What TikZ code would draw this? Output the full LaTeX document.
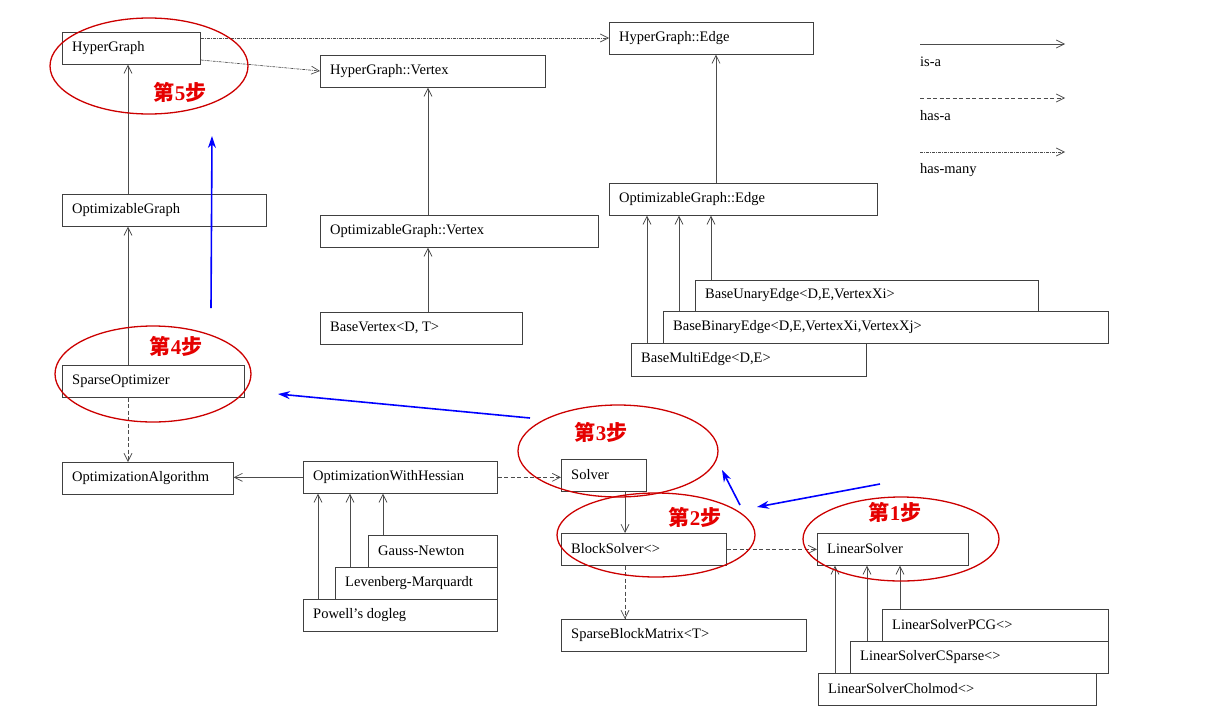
\documentclass[tikz,border=0pt]{standalone}
\usepackage{fontspec}
\setmainfont{Liberation Serif}
\newfontfamily\cjk{Noto Sans CJK SC}
\usetikzlibrary{arrows.meta}
\begin{document}
\begin{tikzpicture}[x=1pt,y=-1pt,
 box/.style={draw=black!75,line width=0.7pt,anchor=north west,inner sep=0pt},
 lbl/.style={anchor=west,inner sep=0pt,font=\fontsize{14.5}{16}\selectfont},
 isa/.style={draw=black!70,line width=0.7pt,-{Straight Barb[length=8pt,width=8pt]}},
 hasa/.style={isa,dash pattern=on 4pt off 2.5pt},
 hasmany/.style={isa,dash pattern=on 3pt off 1pt on 1pt off 1pt},
 ring/.style={draw=red!80!black,line width=1.3pt},
 steplbl/.style={text=red!90!black,font=\fontsize{21}{23}\selectfont\bfseries},
 bluearrow/.style={draw=blue,line width=1.6pt,-{Stealth[length=12pt,width=8pt]}}]
\useasboundingbox (0,0) rectangle (1223,718);
\newcommand{\bx}[6]{\node[box,minimum width=#4-#2,minimum height=#5-#3] (#1) at (#2,#3) {};
 \node[lbl] at (#2+10,{(#3+#5)/2}) {#6};}
\bx{hg}{62}{32}{200}{64}{HyperGraph}
\bx{hgv}{320}{55}{545}{87}{HyperGraph::Vertex}
\bx{hge}{609}{22}{813}{54}{HyperGraph::Edge}
\bx{og}{62}{194}{266}{226}{OptimizableGraph}
\bx{ogv}{320}{215}{598}{247}{OptimizableGraph::Vertex}
\bx{oge}{609}{183}{877}{215}{OptimizableGraph::Edge}
\bx{bv}{320}{312}{522}{344}{BaseVertex<D, T>}
\bx{bue}{695}{280}{1038}{311}{BaseUnaryEdge<D,E,VertexXi>}
\bx{bbe}{663}{311}{1108}{343}{BaseBinaryEdge<D,E,VertexXi,VertexXj>}
\bx{bme}{631}{343}{866}{376}{BaseMultiEdge<D,E>}
\bx{so}{62}{365}{244}{397}{SparseOptimizer}
\bx{oa}{62}{462}{233}{494}{OptimizationAlgorithm}
\bx{owh}{303}{461}{497}{493}{OptimizationWithHessian}
\bx{sol}{561}{459}{646}{491}{Solver}
\bx{bs}{561}{533}{726}{565}{BlockSolver<>}
\bx{ls}{817}{533}{968}{565}{LinearSolver}
\bx{gn}{368}{535}{497}{567}{Gauss-Newton}
\bx{lm}{335}{567}{497}{599}{Levenberg-Marquardt}
\bx{pd}{303}{599}{497}{631}{Powell's dogleg}
\bx{sbm}{561}{619}{806}{651}{SparseBlockMatrix<T>}
\bx{pcg}{882}{609}{1108}{641}{LinearSolverPCG<>}
\bx{csp}{850}{641}{1108}{673}{LinearSolverCSparse<>}
\bx{chol}{818}{673}{1096}{705}{LinearSolverCholmod<>}
% connectors
\draw[isa] (og.north -| 128,0) -- (hg.south -| 128,0);
\draw[isa] (so.north -| 128,0) -- (og.south -| 128,0);
\draw[hasa] (so.south -| 128,0) -- (oa.north -| 128,0);
\draw[isa] (owh.west) -- (oa.east |- owh.west);
\draw[isa] (gn.north -| 383,0) -- (owh.south -| 383,0);
\draw[isa] (lm.north -| 350,0) -- (owh.south -| 350,0);
\draw[isa] (pd.north -| 318,0) -- (owh.south -| 318,0);
\draw[hasa] (owh.east) -- (sol.west |- owh.east);
\draw[isa] (sol.south -| 625,0) -- (bs.north -| 625,0);
\draw[hasa] (bs.east) -- (ls.west);
\draw[hasa] (bs.south -| 625,0) -- (sbm.north -| 625,0);
\draw[isa] (pcg.north -| 900,0) -- (ls.south -| 900,0);
\draw[isa] (csp.north -| 867,0) -- (ls.south -| 867,0);
\draw[isa] (chol.north -| 835,0) -- (ls.south -| 835,0);
\draw[hasmany] (hg.east |- 0,38) -- (hge.west |- 0,38);
\draw[hasmany] (hg.east |- 0,60) -- (hgv.west |- 0,71);
\draw[isa] (ogv.north -| 428,0) -- (hgv.south -| 428,0);
\draw[isa] (bv.north -| 428,0) -- (ogv.south -| 428,0);
\draw[isa] (oge.north -| 716,0) -- (hge.south -| 716,0);
\draw[isa] (bue.north -| 711,0) -- (oge.south -| 711,0);
\draw[isa] (bbe.north -| 679,0) -- (oge.south -| 679,0);
\draw[isa] (bme.north -| 647,0) -- (oge.south -| 647,0);
% legend
\coordinate (l1a) at (920,44); \coordinate (l1b) at (1065,44);
\coordinate (l2a) at (920,98); \coordinate (l2b) at (1065,98);
\coordinate (l3a) at (920,152); \coordinate (l3b) at (1065,152);
\draw[isa] (l1a) -- (l1b); \draw[hasa] (l2a) -- (l2b); \draw[hasmany] (l3a) -- (l3b);
\node[lbl] (t1) at (920,62) {is-a};
\node[lbl] (t2) at (920,116) {has-a};
\node[lbl] (t3) at (920,170) {has-many};
% annotations
\draw[ring] (149,66) ellipse [x radius=99,y radius=48];
\draw[ring] (153,374) ellipse [x radius=98,y radius=48];
\draw[ring] (618,451) ellipse [x radius=100,y radius=46];
\draw[ring] (656,535) ellipse [x radius=99,y radius=42];
\draw[ring] (901,539) ellipse [x radius=98,y radius=42];
\node[steplbl] (s5) at (180,92) {{\cjk 第}5{\cjk 步}};
\node[steplbl] (s4) at (176,346) {{\cjk 第}4{\cjk 步}};
\node[steplbl] (s3) at (601,432) {{\cjk 第}3{\cjk 步}};
\node[steplbl] (s2) at (695,517) {{\cjk 第}2{\cjk 步}};
\node[steplbl] (s1) at (895,512) {{\cjk 第}1{\cjk 步}};
\coordinate (b1a) at (211,308); \coordinate (b1b) at (212,136);
\coordinate (b2a) at (530,418); \coordinate (b2b) at (278,394);
\coordinate (b3a) at (880,484); \coordinate (b3b) at (757,507);
\coordinate (b4a) at (740,505); \coordinate (b4b) at (722,470);
\draw[bluearrow] (b1a) -- (b1b); \draw[bluearrow] (b2a) -- (b2b);
\draw[bluearrow] (b3a) -- (b3b); \draw[bluearrow] (b4a) -- (b4b);
\end{tikzpicture}
\end{document}
